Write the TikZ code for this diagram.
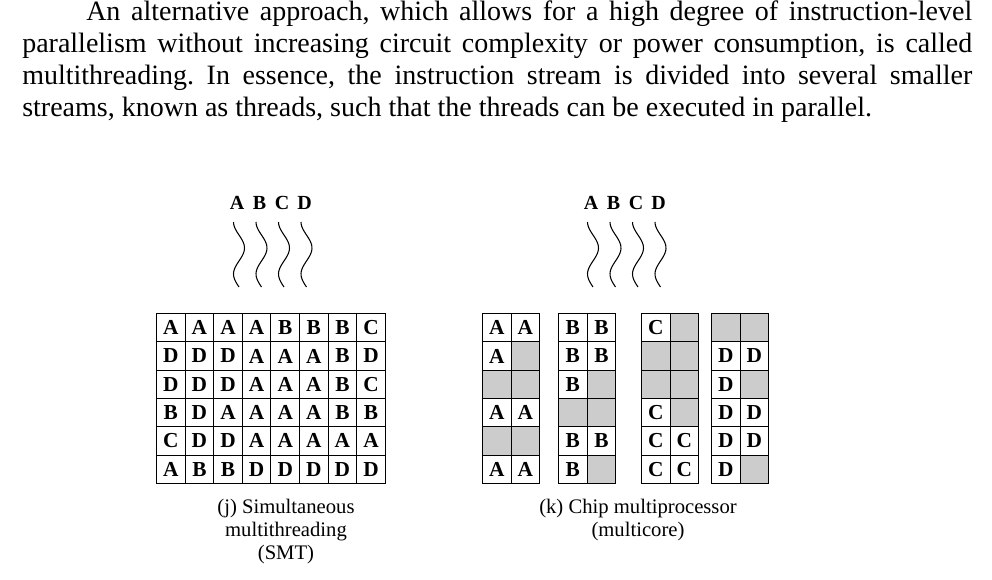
\documentclass[tikz,border=0pt]{standalone}
\usepackage{fontspec}
\setmainfont{Liberation Serif}
\tikzset{
  cell/.style={draw,thick,minimum width=28.6*0.75pt,minimum height=28.3*0.75pt,anchor=north west,inner sep=0pt,font=\bfseries\fontsize{16}{16}\selectfont},
  idle/.style={cell,fill=black!20},
  lbl/.style={font=\fontsize{15.5}{17.5}\selectfont,align=center},
  thr/.style={font=\bfseries\fontsize{15}{15}\selectfont},
}
\def\idlemark{-}
\begin{document}
\frenchspacing
\begin{tikzpicture}[x=0.75pt,y=-0.75pt]
  \useasboundingbox (0,0) rectangle (992,579);
  % paragraph
  \node (para) [anchor=north west,inner sep=0pt,text width=950*0.75pt,font=\fontsize{21}{24}\selectfont,align=justify] at (22,1)
    {\hspace*{48pt}An alternative approach, which allows for a high degree of instruction-level\linebreak parallelism without increasing circuit complexity or power consumption, is called\linebreak multithreading. In essence, the instruction stream is divided into several smaller\linebreak streams, known as threads, such that the threads can be executed in parallel.};
  % thread labels and wavy lines
  \foreach \t [count=\i] in {A,B,C,D} {
    \node (l\t) [thr] at ({237+22.5*(\i-1)},203) {\t};
    \draw[thick,smooth,domain=0:1,samples=30] plot ({239+22.5*(\i-1)+5.5*sin(-90+450*\x)},{222+65*\x});
    \node (m\t) [thr] at ({591+22.5*(\i-1)},203) {\t};
    \draw[thick,smooth,domain=0:1,samples=30] plot ({593+22.5*(\i-1)+5.5*sin(-90+450*\x)},{222+65*\x});
  }
  % (j) SMT grid
  \foreach \row [count=\r] in {{A,A,A,A,B,B,B,C},{D,D,D,A,A,A,B,D},{D,D,D,A,A,A,B,C},
                               {B,D,A,A,A,A,B,B},{C,D,D,A,A,A,A,A},{A,B,B,D,D,D,D,D}}
    \foreach \c [count=\k] in \row
      \node (s\r\k) [cell] at ({156+28.6*(\k-1)},{313+28.3*(\r-1)}) {\c};
  % (k) chip multiprocessor, - = idle slot
  \foreach \px/\col in {482/{A,A,A,-,-,-,A,A,-,-,A,A},558/{B,B,B,B,B,-,-,-,B,B,B,-},
                       641/{C,-,-,-,-,-,C,-,C,C,C,C},711/{-,-,D,D,D,-,D,D,D,D,D,-}}
    \foreach \c [count=\n] in \col {
      \pgfmathtruncatemacro{\r}{int((\n-1)/2)}
      \pgfmathtruncatemacro{\k}{mod(\n-1,2)}
      \ifx\c\idlemark
        \node (c\px-\n) [idle] at ({\px+28.6*\k},{313+28.3*\r}) {};
      \else
        \node (c\px-\n) [cell] at ({\px+28.6*\k},{313+28.3*\r}) {\c};
      \fi
    }
  % captions
  \node (capj) [lbl,anchor=north] at (286,494) {(j) Simultaneous\\multithreading\\(SMT)};
  \node (capk) [lbl,anchor=north] at (638,494) {(k) Chip multiprocessor\\(multicore)};
\end{tikzpicture}
\end{document}
